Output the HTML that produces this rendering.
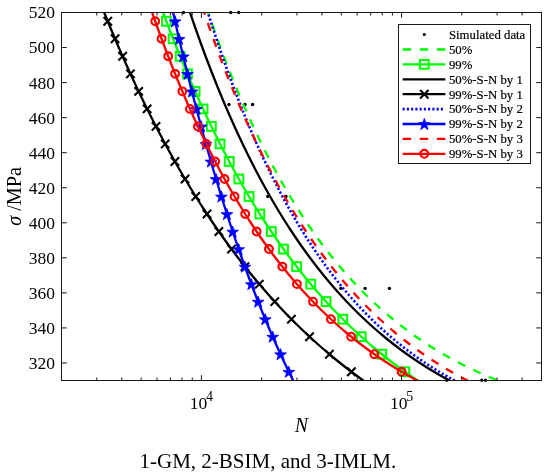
<!DOCTYPE html><html><head><meta charset="utf-8"><style>html,body{margin:0;padding:0;background:#fff;}svg{display:block;}text{font-family:"Liberation Serif","Times New Roman",serif;}text.lg{stroke:#000;stroke-width:0.2px;}</style></head><body>
<svg width="550" height="476" viewBox="0 0 550 476">
<rect width="550" height="476" fill="#fff"/>
<defs><clipPath id="c"><rect x="61.5" y="12.5" width="480.0" height="368.0"/></clipPath>
<path id="mx" d="M-4.2,-4.2L4.2,4.2M-4.2,4.2L4.2,-4.2" fill="none" stroke="#000" stroke-width="2.1"/>
<rect id="ms" x="-4.4" y="-4.4" width="8.8" height="8.8" fill="none" stroke="#0f0" stroke-width="2"/>
<circle id="mo" r="3.9" fill="none" stroke="#f00" stroke-width="2.1"/>
<polygon id="mst" points="0.00,-5.60 1.47,-1.42 5.90,-1.32 2.38,1.37 3.64,5.62 0.00,3.10 -3.64,5.62 -2.38,1.37 -5.90,-1.32 -1.47,-1.42" fill="#00f" stroke="#00f" stroke-width="0.8" stroke-linejoin="miter"/>
</defs>
<circle cx="183.5" cy="12.5" r="1.7" fill="#000" stroke="none"/><circle cx="230.7" cy="12.5" r="1.7" fill="#000" stroke="none"/><circle cx="238.7" cy="12.5" r="1.7" fill="#000" stroke="none"/><circle cx="229" cy="104.5" r="1.7" fill="#000" stroke="none"/><circle cx="245" cy="104.5" r="1.7" fill="#000" stroke="none"/><circle cx="252.6" cy="104.5" r="1.7" fill="#000" stroke="none"/><circle cx="267.7" cy="196.5" r="1.7" fill="#000" stroke="none"/><circle cx="285.9" cy="196.5" r="1.7" fill="#000" stroke="none"/><circle cx="340.8" cy="288.4" r="1.7" fill="#000" stroke="none"/><circle cx="365.1" cy="288.4" r="1.7" fill="#000" stroke="none"/><circle cx="389.4" cy="288.4" r="1.7" fill="#000" stroke="none"/><circle cx="446.9" cy="380.2" r="1.7" fill="#000" stroke="none"/><circle cx="481.8" cy="380.2" r="1.7" fill="#000" stroke="none"/><circle cx="485.5" cy="380.2" r="1.7" fill="#000" stroke="none"/>
<g clip-path="url(#c)" fill="none" stroke-width="2.3">
<path d="M207.34,10.50 L207.68,11.50 L208.02,12.50 L208.36,13.50 L208.71,14.50 L209.05,15.50 L209.39,16.50 L209.74,17.50 L210.08,18.50 L210.43,19.50 L210.78,20.50 L211.12,21.50 L211.47,22.50 L211.82,23.50 L212.17,24.50 L212.52,25.50 L212.88,26.50 L213.23,27.50 L213.58,28.50 L213.94,29.50 L214.29,30.50 L214.65,31.50 L215.01,32.50 L215.36,33.50 L215.72,34.50 L216.08,35.50 L216.44,36.50 L216.81,37.50 L217.17,38.50 L217.53,39.50 L217.90,40.50 L218.26,41.50 L218.63,42.50 L219.00,43.50 L219.36,44.50 L219.73,45.50 L220.10,46.50 L220.47,47.50 L220.85,48.50 L221.22,49.50 L221.59,50.50 L221.97,51.50 L222.34,52.50 L222.72,53.50 L223.10,54.50 L223.48,55.50 L223.86,56.50 L224.24,57.50 L224.62,58.50 L225.00,59.50 L225.38,60.50 L225.77,61.50 L226.16,62.50 L226.54,63.50 L226.93,64.50 L227.32,65.50 L227.71,66.50 L228.10,67.50 L228.49,68.50 L228.88,69.50 L229.28,70.50 L229.67,71.50 L230.07,72.50 L230.47,73.50 L230.87,74.50 L231.27,75.50 L231.67,76.50 L232.07,77.50 L232.47,78.50 L232.87,79.50 L233.28,80.50 L233.69,81.50 L234.09,82.50 L234.50,83.50 L234.91,84.50 L235.32,85.50 L235.73,86.50 L236.15,87.50 L236.56,88.50 L236.98,89.50 L237.39,90.50 L237.81,91.50 L238.23,92.50 L238.65,93.50 L239.07,94.50 L239.50,95.50 L239.92,96.50 L240.35,97.50 L240.77,98.50 L241.20,99.50 L241.63,100.50 L242.06,101.50 L242.49,102.50 L242.92,103.50 L243.36,104.50 L243.79,105.50 L244.23,106.50 L244.67,107.50 L245.11,108.50 L245.55,109.50 L245.99,110.50 L246.43,111.50 L246.88,112.50 L247.33,113.50 L247.77,114.50 L248.22,115.50 L248.67,116.50 L249.12,117.50 L249.58,118.50 L250.03,119.50 L250.49,120.50 L250.95,121.50 L251.40,122.50 L251.86,123.50 L252.33,124.50 L252.79,125.50 L253.25,126.50 L253.72,127.50 L254.19,128.50 L254.66,129.50 L255.13,130.50 L255.60,131.50 L256.08,132.50 L256.55,133.50 L257.03,134.50 L257.51,135.50 L257.99,136.50 L258.47,137.50 L258.95,138.50 L259.44,139.50 L259.92,140.50 L260.41,141.50 L260.90,142.50 L261.39,143.50 L261.89,144.50 L262.38,145.50 L262.88,146.50 L263.38,147.50 L263.88,148.50 L264.38,149.50 L264.88,150.50 L265.39,151.50 L265.89,152.50 L266.40,153.50 L266.91,154.50 L267.42,155.50 L267.94,156.50 L268.45,157.50 L268.97,158.50 L269.49,159.50 L270.01,160.50 L270.54,161.50 L271.06,162.50 L271.59,163.50 L272.12,164.50 L272.65,165.50 L273.18,166.50 L273.72,167.50 L274.25,168.50 L274.79,169.50 L275.33,170.50 L275.88,171.50 L276.42,172.50 L276.97,173.50 L277.52,174.50 L278.07,175.50 L278.62,176.50 L279.18,177.50 L279.74,178.50 L280.30,179.50 L280.86,180.50 L281.42,181.50 L281.99,182.50 L282.56,183.50 L283.13,184.50 L283.70,185.50 L284.28,186.50 L284.85,187.50 L285.43,188.50 L286.02,189.50 L286.60,190.50 L287.19,191.50 L287.78,192.50 L288.37,193.50 L288.96,194.50 L289.56,195.50 L290.16,196.50 L290.76,197.50 L291.36,198.50 L291.97,199.50 L292.58,200.50 L293.19,201.50 L293.81,202.50 L294.42,203.50 L295.04,204.50 L295.66,205.50 L296.29,206.50 L296.92,207.50 L297.55,208.50 L298.18,209.50 L298.81,210.50 L299.45,211.50 L300.09,212.50 L300.74,213.50 L301.39,214.50 L302.04,215.50 L302.69,216.50 L303.34,217.50 L304.00,218.50 L304.67,219.50 L305.33,220.50 L306.00,221.50 L306.67,222.50 L307.34,223.50 L308.02,224.50 L308.70,225.50 L309.38,226.50 L310.07,227.50 L310.76,228.50 L311.45,229.50 L312.15,230.50 L312.85,231.50 L313.55,232.50 L314.26,233.50 L314.97,234.50 L315.69,235.50 L316.40,236.50 L317.12,237.50 L317.85,238.50 L318.58,239.50 L319.31,240.50 L320.04,241.50 L320.78,242.50 L321.53,243.50 L322.27,244.50 L323.02,245.50 L323.78,246.50 L324.54,247.50 L325.30,248.50 L326.07,249.50 L326.84,250.50 L327.61,251.50 L328.39,252.50 L329.18,253.50 L329.96,254.50 L330.75,255.50 L331.55,256.50 L332.35,257.50 L333.16,258.50 L333.97,259.50 L334.78,260.50 L335.60,261.50 L336.42,262.50 L337.25,263.50 L338.08,264.50 L338.92,265.50 L339.76,266.50 L340.61,267.50 L341.46,268.50 L342.32,269.50 L343.18,270.50 L344.05,271.50 L344.92,272.50 L345.80,273.50 L346.68,274.50 L347.57,275.50 L348.46,276.50 L349.36,277.50 L350.27,278.50 L351.18,279.50 L352.10,280.50 L353.02,281.50 L353.95,282.50 L354.88,283.50 L355.82,284.50 L356.77,285.50 L357.72,286.50 L358.68,287.50 L359.65,288.50 L360.62,289.50 L361.60,290.50 L362.58,291.50 L363.57,292.50 L364.57,293.50 L365.58,294.50 L366.59,295.50 L367.61,296.50 L368.64,297.50 L369.67,298.50 L370.71,299.50 L371.76,300.50 L372.82,301.50 L373.88,302.50 L374.96,303.50 L376.04,304.50 L377.12,305.50 L378.22,306.50 L379.33,307.50 L380.44,308.50 L381.56,309.50 L382.69,310.50 L383.83,311.50 L384.98,312.50 L386.14,313.50 L387.31,314.50 L388.48,315.50 L389.67,316.50 L390.87,317.50 L392.07,318.50 L393.29,319.50 L394.51,320.50 L395.75,321.50 L397.00,322.50 L398.26,323.50 L399.53,324.50 L400.81,325.50 L402.10,326.50 L403.40,327.50 L404.72,328.50 L406.05,329.50 L407.38,330.50 L408.74,331.50 L410.10,332.50 L411.48,333.50 L412.87,334.50 L414.27,335.50 L415.69,336.50 L417.13,337.50 L418.57,338.50 L420.03,339.50 L421.51,340.50 L423.00,341.50 L424.51,342.50 L426.03,343.50 L427.57,344.50 L429.12,345.50 L430.69,346.50 L432.28,347.50 L433.89,348.50 L435.51,349.50 L437.15,350.50 L438.82,351.50 L440.50,352.50 L442.20,353.50 L443.92,354.50 L445.66,355.50 L447.42,356.50 L449.21,357.50 L451.01,358.50 L452.84,359.50 L454.69,360.50 L456.57,361.50 L458.47,362.50 L460.40,363.50 L462.35,364.50 L464.33,365.50 L466.33,366.50 L468.37,367.50 L470.43,368.50 L472.52,369.50 L474.65,370.50 L476.80,371.50 L478.99,372.50 L481.21,373.50 L483.46,374.50 L485.75,375.50 L488.08,376.50 L490.45,377.50 L492.85,378.50 L495.30,379.50 L497.78,380.50 L500.31,381.50 L502.89,382.50" stroke="#0f0" stroke-dasharray="8.3 8.85" stroke-dashoffset="3.08"/>
<path d="M162.31,10.50 L162.68,11.50 L163.06,12.50 L163.43,13.50 L163.80,14.50 L164.18,15.50 L164.55,16.50 L164.93,17.50 L165.30,18.50 L165.68,19.50 L166.06,20.50 L166.44,21.50 L166.82,22.50 L167.20,23.50 L167.58,24.50 L167.96,25.50 L168.35,26.50 L168.73,27.50 L169.11,28.50 L169.50,29.50 L169.89,30.50 L170.27,31.50 L170.66,32.50 L171.05,33.50 L171.44,34.50 L171.83,35.50 L172.22,36.50 L172.61,37.50 L173.01,38.50 L173.40,39.50 L173.79,40.50 L174.19,41.50 L174.59,42.50 L174.98,43.50 L175.38,44.50 L175.78,45.50 L176.18,46.50 L176.58,47.50 L176.98,48.50 L177.39,49.50 L177.79,50.50 L178.19,51.50 L178.60,52.50 L179.00,53.50 L179.41,54.50 L179.82,55.50 L180.23,56.50 L180.64,57.50 L181.05,58.50 L181.46,59.50 L181.87,60.50 L182.29,61.50 L182.70,62.50 L183.12,63.50 L183.53,64.50 L183.95,65.50 L184.37,66.50 L184.79,67.50 L185.21,68.50 L185.63,69.50 L186.05,70.50 L186.47,71.50 L186.90,72.50 L187.32,73.50 L187.75,74.50 L188.18,75.50 L188.60,76.50 L189.03,77.50 L189.46,78.50 L189.89,79.50 L190.33,80.50 L190.76,81.50 L191.19,82.50 L191.63,83.50 L192.07,84.50 L192.50,85.50 L192.94,86.50 L193.38,87.50 L193.82,88.50 L194.26,89.50 L194.71,90.50 L195.15,91.50 L195.59,92.50 L196.04,93.50 L196.49,94.50 L196.94,95.50 L197.38,96.50 L197.83,97.50 L198.29,98.50 L198.74,99.50 L199.19,100.50 L199.65,101.50 L200.10,102.50 L200.56,103.50 L201.02,104.50 L201.48,105.50 L201.94,106.50 L202.40,107.50 L202.86,108.50 L203.33,109.50 L203.79,110.50 L204.26,111.50 L204.73,112.50 L205.20,113.50 L205.67,114.50 L206.14,115.50 L206.61,116.50 L207.08,117.50 L207.56,118.50 L208.03,119.50 L208.51,120.50 L208.99,121.50 L209.47,122.50 L209.95,123.50 L210.43,124.50 L210.92,125.50 L211.40,126.50 L211.89,127.50 L212.38,128.50 L212.87,129.50 L213.36,130.50 L213.85,131.50 L214.34,132.50 L214.84,133.50 L215.33,134.50 L215.83,135.50 L216.33,136.50 L216.83,137.50 L217.33,138.50 L217.83,139.50 L218.34,140.50 L218.84,141.50 L219.35,142.50 L219.86,143.50 L220.37,144.50 L220.88,145.50 L221.39,146.50 L221.90,147.50 L222.42,148.50 L222.93,149.50 L223.45,150.50 L223.97,151.50 L224.49,152.50 L225.02,153.50 L225.54,154.50 L226.07,155.50 L226.59,156.50 L227.12,157.50 L227.65,158.50 L228.19,159.50 L228.72,160.50 L229.25,161.50 L229.79,162.50 L230.33,163.50 L230.87,164.50 L231.41,165.50 L231.95,166.50 L232.50,167.50 L233.04,168.50 L233.59,169.50 L234.14,170.50 L234.69,171.50 L235.25,172.50 L235.80,173.50 L236.36,174.50 L236.91,175.50 L237.47,176.50 L238.04,177.50 L238.60,178.50 L239.16,179.50 L239.73,180.50 L240.30,181.50 L240.87,182.50 L241.44,183.50 L242.02,184.50 L242.59,185.50 L243.17,186.50 L243.75,187.50 L244.33,188.50 L244.91,189.50 L245.50,190.50 L246.08,191.50 L246.67,192.50 L247.26,193.50 L247.86,194.50 L248.45,195.50 L249.05,196.50 L249.65,197.50 L250.25,198.50 L250.85,199.50 L251.45,200.50 L252.06,201.50 L252.67,202.50 L253.28,203.50 L253.89,204.50 L254.51,205.50 L255.12,206.50 L255.74,207.50 L256.36,208.50 L256.98,209.50 L257.61,210.50 L258.24,211.50 L258.87,212.50 L259.50,213.50 L260.13,214.50 L260.77,215.50 L261.41,216.50 L262.05,217.50 L262.69,218.50 L263.33,219.50 L263.98,220.50 L264.63,221.50 L265.28,222.50 L265.94,223.50 L266.59,224.50 L267.25,225.50 L267.92,226.50 L268.58,227.50 L269.25,228.50 L269.91,229.50 L270.59,230.50 L271.26,231.50 L271.94,232.50 L272.61,233.50 L273.30,234.50 L273.98,235.50 L274.67,236.50 L275.35,237.50 L276.05,238.50 L276.74,239.50 L277.44,240.50 L278.14,241.50 L278.84,242.50 L279.54,243.50 L280.25,244.50 L280.96,245.50 L281.68,246.50 L282.39,247.50 L283.11,248.50 L283.83,249.50 L284.56,250.50 L285.29,251.50 L286.02,252.50 L286.75,253.50 L287.49,254.50 L288.23,255.50 L288.97,256.50 L289.71,257.50 L290.46,258.50 L291.21,259.50 L291.97,260.50 L292.73,261.50 L293.49,262.50 L294.25,263.50 L295.02,264.50 L295.79,265.50 L296.56,266.50 L297.34,267.50 L298.12,268.50 L298.91,269.50 L299.69,270.50 L300.48,271.50 L301.28,272.50 L302.08,273.50 L302.88,274.50 L303.68,275.50 L304.49,276.50 L305.30,277.50 L306.12,278.50 L306.94,279.50 L307.76,280.50 L308.59,281.50 L309.42,282.50 L310.25,283.50 L311.09,284.50 L311.93,285.50 L312.78,286.50 L313.63,287.50 L314.48,288.50 L315.34,289.50 L316.20,290.50 L317.07,291.50 L317.94,292.50 L318.81,293.50 L319.69,294.50 L320.58,295.50 L321.46,296.50 L322.35,297.50 L323.25,298.50 L324.15,299.50 L325.06,300.50 L325.97,301.50 L326.88,302.50 L327.80,303.50 L328.72,304.50 L329.65,305.50 L330.58,306.50 L331.52,307.50 L332.46,308.50 L333.41,309.50 L334.36,310.50 L335.32,311.50 L336.28,312.50 L337.25,313.50 L338.22,314.50 L339.20,315.50 L340.18,316.50 L341.17,317.50 L342.16,318.50 L343.16,319.50 L344.17,320.50 L345.18,321.50 L346.20,322.50 L347.22,323.50 L348.24,324.50 L349.28,325.50 L350.32,326.50 L351.36,327.50 L352.41,328.50 L353.47,329.50 L354.53,330.50 L355.60,331.50 L356.68,332.50 L357.76,333.50 L358.85,334.50 L359.95,335.50 L361.05,336.50 L362.16,337.50 L363.27,338.50 L364.40,339.50 L365.53,340.50 L366.66,341.50 L367.81,342.50 L368.96,343.50 L370.12,344.50 L371.28,345.50 L372.46,346.50 L373.64,347.50 L374.83,348.50 L376.02,349.50 L377.23,350.50 L378.44,351.50 L379.66,352.50 L380.89,353.50 L382.13,354.50 L383.37,355.50 L384.62,356.50 L385.89,357.50 L387.16,358.50 L388.44,359.50 L389.73,360.50 L391.03,361.50 L392.34,362.50 L393.65,363.50 L394.98,364.50 L396.32,365.50 L397.67,366.50 L399.02,367.50 L400.39,368.50 L401.77,369.50 L403.16,370.50 L404.55,371.50 L405.96,372.50 L407.39,373.50 L408.82,374.50 L410.26,375.50 L411.71,376.50 L413.18,377.50 L414.66,378.50 L416.15,379.50 L417.65,380.50 L419.17,381.50 L420.70,382.50" stroke="#0f0"/>
<use href="#ms" x="166.35" y="21.26"/>
<use href="#ms" x="173.12" y="38.79"/>
<use href="#ms" x="180.15" y="56.31"/>
<use href="#ms" x="187.47" y="73.83"/>
<use href="#ms" x="195.09" y="91.36"/>
<use href="#ms" x="203.04" y="108.88"/>
<use href="#ms" x="211.36" y="126.40"/>
<use href="#ms" x="220.07" y="143.93"/>
<use href="#ms" x="229.23" y="161.45"/>
<use href="#ms" x="238.87" y="178.98"/>
<use href="#ms" x="249.05" y="196.50"/>
<use href="#ms" x="259.83" y="214.02"/>
<use href="#ms" x="271.29" y="231.55"/>
<use href="#ms" x="283.52" y="249.07"/>
<use href="#ms" x="296.64" y="266.60"/>
<use href="#ms" x="310.77" y="284.12"/>
<use href="#ms" x="326.10" y="301.64"/>
<use href="#ms" x="342.83" y="319.17"/>
<use href="#ms" x="361.26" y="336.69"/>
<use href="#ms" x="381.77" y="354.21"/>
<use href="#ms" x="404.89" y="371.74"/>
<path d="M189.35,10.50 L189.69,11.50 L190.03,12.50 L190.37,13.50 L190.71,14.50 L191.05,15.50 L191.39,16.50 L191.73,17.50 L192.07,18.50 L192.41,19.50 L192.76,20.50 L193.10,21.50 L193.45,22.50 L193.80,23.50 L194.14,24.50 L194.49,25.50 L194.84,26.50 L195.19,27.50 L195.54,28.50 L195.89,29.50 L196.24,30.50 L196.60,31.50 L196.95,32.50 L197.31,33.50 L197.66,34.50 L198.02,35.50 L198.37,36.50 L198.73,37.50 L199.09,38.50 L199.45,39.50 L199.81,40.50 L200.17,41.50 L200.54,42.50 L200.90,43.50 L201.26,44.50 L201.63,45.50 L201.99,46.50 L202.36,47.50 L202.73,48.50 L203.10,49.50 L203.46,50.50 L203.83,51.50 L204.21,52.50 L204.58,53.50 L204.95,54.50 L205.32,55.50 L205.70,56.50 L206.07,57.50 L206.45,58.50 L206.83,59.50 L207.21,60.50 L207.59,61.50 L207.97,62.50 L208.35,63.50 L208.73,64.50 L209.11,65.50 L209.50,66.50 L209.88,67.50 L210.27,68.50 L210.66,69.50 L211.04,70.50 L211.43,71.50 L211.82,72.50 L212.21,73.50 L212.61,74.50 L213.00,75.50 L213.39,76.50 L213.79,77.50 L214.18,78.50 L214.58,79.50 L214.98,80.50 L215.38,81.50 L215.78,82.50 L216.18,83.50 L216.58,84.50 L216.99,85.50 L217.39,86.50 L217.80,87.50 L218.20,88.50 L218.61,89.50 L219.02,90.50 L219.43,91.50 L219.84,92.50 L220.25,93.50 L220.67,94.50 L221.08,95.50 L221.50,96.50 L221.91,97.50 L222.33,98.50 L222.75,99.50 L223.17,100.50 L223.59,101.50 L224.01,102.50 L224.44,103.50 L224.86,104.50 L225.29,105.50 L225.72,106.50 L226.14,107.50 L226.57,108.50 L227.00,109.50 L227.44,110.50 L227.87,111.50 L228.30,112.50 L228.74,113.50 L229.18,114.50 L229.62,115.50 L230.06,116.50 L230.50,117.50 L230.94,118.50 L231.38,119.50 L231.83,120.50 L232.27,121.50 L232.72,122.50 L233.17,123.50 L233.62,124.50 L234.07,125.50 L234.52,126.50 L234.98,127.50 L235.43,128.50 L235.89,129.50 L236.35,130.50 L236.81,131.50 L237.27,132.50 L237.73,133.50 L238.19,134.50 L238.66,135.50 L239.12,136.50 L239.59,137.50 L240.06,138.50 L240.53,139.50 L241.01,140.50 L241.48,141.50 L241.95,142.50 L242.43,143.50 L242.91,144.50 L243.39,145.50 L243.87,146.50 L244.35,147.50 L244.84,148.50 L245.32,149.50 L245.81,150.50 L246.30,151.50 L246.79,152.50 L247.28,153.50 L247.78,154.50 L248.27,155.50 L248.77,156.50 L249.27,157.50 L249.77,158.50 L250.27,159.50 L250.77,160.50 L251.28,161.50 L251.78,162.50 L252.29,163.50 L252.80,164.50 L253.32,165.50 L253.83,166.50 L254.34,167.50 L254.86,168.50 L255.38,169.50 L255.90,170.50 L256.42,171.50 L256.95,172.50 L257.47,173.50 L258.00,174.50 L258.53,175.50 L259.06,176.50 L259.60,177.50 L260.13,178.50 L260.67,179.50 L261.21,180.50 L261.75,181.50 L262.29,182.50 L262.84,183.50 L263.39,184.50 L263.93,185.50 L264.49,186.50 L265.04,187.50 L265.59,188.50 L266.15,189.50 L266.71,190.50 L267.27,191.50 L267.83,192.50 L268.40,193.50 L268.97,194.50 L269.54,195.50 L270.11,196.50 L270.68,197.50 L271.26,198.50 L271.83,199.50 L272.41,200.50 L273.00,201.50 L273.58,202.50 L274.17,203.50 L274.76,204.50 L275.35,205.50 L275.94,206.50 L276.54,207.50 L277.14,208.50 L277.74,209.50 L278.34,210.50 L278.95,211.50 L279.56,212.50 L280.17,213.50 L280.78,214.50 L281.40,215.50 L282.01,216.50 L282.63,217.50 L283.26,218.50 L283.88,219.50 L284.51,220.50 L285.14,221.50 L285.77,222.50 L286.41,223.50 L287.05,224.50 L287.69,225.50 L288.33,226.50 L288.98,227.50 L289.63,228.50 L290.28,229.50 L290.94,230.50 L291.60,231.50 L292.26,232.50 L292.92,233.50 L293.59,234.50 L294.26,235.50 L294.93,236.50 L295.61,237.50 L296.28,238.50 L296.97,239.50 L297.65,240.50 L298.34,241.50 L299.03,242.50 L299.72,243.50 L300.42,244.50 L301.12,245.50 L301.82,246.50 L302.53,247.50 L303.24,248.50 L303.95,249.50 L304.67,250.50 L305.39,251.50 L306.12,252.50 L306.84,253.50 L307.57,254.50 L308.31,255.50 L309.04,256.50 L309.79,257.50 L310.53,258.50 L311.28,259.50 L312.03,260.50 L312.79,261.50 L313.55,262.50 L314.31,263.50 L315.08,264.50 L315.85,265.50 L316.63,266.50 L317.40,267.50 L318.19,268.50 L318.97,269.50 L319.77,270.50 L320.56,271.50 L321.36,272.50 L322.17,273.50 L322.97,274.50 L323.79,275.50 L324.60,276.50 L325.42,277.50 L326.25,278.50 L327.08,279.50 L327.91,280.50 L328.75,281.50 L329.60,282.50 L330.45,283.50 L331.30,284.50 L332.16,285.50 L333.02,286.50 L333.89,287.50 L334.76,288.50 L335.64,289.50 L336.52,290.50 L337.41,291.50 L338.31,292.50 L339.20,293.50 L340.11,294.50 L341.02,295.50 L341.93,296.50 L342.85,297.50 L343.78,298.50 L344.71,299.50 L345.65,300.50 L346.59,301.50 L347.54,302.50 L348.50,303.50 L349.46,304.50 L350.42,305.50 L351.40,306.50 L352.38,307.50 L353.36,308.50 L354.36,309.50 L355.36,310.50 L356.36,311.50 L357.37,312.50 L358.39,313.50 L359.42,314.50 L360.45,315.50 L361.49,316.50 L362.54,317.50 L363.59,318.50 L364.65,319.50 L365.72,320.50 L366.80,321.50 L367.88,322.50 L368.98,323.50 L370.08,324.50 L371.18,325.50 L372.30,326.50 L373.43,327.50 L374.56,328.50 L375.70,329.50 L376.85,330.50 L378.01,331.50 L379.18,332.50 L380.35,333.50 L381.54,334.50 L382.73,335.50 L383.94,336.50 L385.15,337.50 L386.37,338.50 L387.61,339.50 L388.85,340.50 L390.11,341.50 L391.37,342.50 L392.65,343.50 L393.93,344.50 L395.23,345.50 L396.54,346.50 L397.86,347.50 L399.19,348.50 L400.53,349.50 L401.88,350.50 L403.25,351.50 L404.63,352.50 L406.02,353.50 L407.42,354.50 L408.84,355.50 L410.27,356.50 L411.72,357.50 L413.17,358.50 L414.65,359.50 L416.13,360.50 L417.63,361.50 L419.15,362.50 L420.68,363.50 L422.23,364.50 L423.79,365.50 L425.37,366.50 L426.97,367.50 L428.58,368.50 L430.21,369.50 L431.86,370.50 L433.52,371.50 L435.21,372.50 L436.91,373.50 L438.63,374.50 L440.37,375.50 L442.13,376.50 L443.92,377.50 L445.72,378.50 L447.55,379.50 L449.39,380.50 L451.26,381.50 L453.16,382.50" stroke="#000"/>
<path d="M103.39,10.50 L103.79,11.50 L104.19,12.50 L104.59,13.50 L105.00,14.50 L105.40,15.50 L105.80,16.50 L106.21,17.50 L106.62,18.50 L107.03,19.50 L107.43,20.50 L107.84,21.50 L108.25,22.50 L108.66,23.50 L109.07,24.50 L109.49,25.50 L109.90,26.50 L110.31,27.50 L110.73,28.50 L111.15,29.50 L111.56,30.50 L111.98,31.50 L112.40,32.50 L112.82,33.50 L113.24,34.50 L113.66,35.50 L114.08,36.50 L114.50,37.50 L114.92,38.50 L115.35,39.50 L115.77,40.50 L116.20,41.50 L116.63,42.50 L117.05,43.50 L117.48,44.50 L117.91,45.50 L118.34,46.50 L118.77,47.50 L119.21,48.50 L119.64,49.50 L120.07,50.50 L120.51,51.50 L120.94,52.50 L121.38,53.50 L121.82,54.50 L122.26,55.50 L122.70,56.50 L123.14,57.50 L123.58,58.50 L124.02,59.50 L124.46,60.50 L124.91,61.50 L125.35,62.50 L125.80,63.50 L126.25,64.50 L126.69,65.50 L127.14,66.50 L127.59,67.50 L128.04,68.50 L128.50,69.50 L128.95,70.50 L129.40,71.50 L129.86,72.50 L130.31,73.50 L130.77,74.50 L131.23,75.50 L131.69,76.50 L132.15,77.50 L132.61,78.50 L133.07,79.50 L133.53,80.50 L134.00,81.50 L134.46,82.50 L134.93,83.50 L135.39,84.50 L135.86,85.50 L136.33,86.50 L136.80,87.50 L137.27,88.50 L137.75,89.50 L138.22,90.50 L138.69,91.50 L139.17,92.50 L139.65,93.50 L140.12,94.50 L140.60,95.50 L141.08,96.50 L141.56,97.50 L142.05,98.50 L142.53,99.50 L143.01,100.50 L143.50,101.50 L143.99,102.50 L144.47,103.50 L144.96,104.50 L145.45,105.50 L145.94,106.50 L146.44,107.50 L146.93,108.50 L147.43,109.50 L147.92,110.50 L148.42,111.50 L148.92,112.50 L149.42,113.50 L149.92,114.50 L150.42,115.50 L150.92,116.50 L151.43,117.50 L151.93,118.50 L152.44,119.50 L152.95,120.50 L153.46,121.50 L153.97,122.50 L154.48,123.50 L154.99,124.50 L155.51,125.50 L156.03,126.50 L156.54,127.50 L157.06,128.50 L157.58,129.50 L158.10,130.50 L158.62,131.50 L159.15,132.50 L159.67,133.50 L160.20,134.50 L160.73,135.50 L161.25,136.50 L161.78,137.50 L162.32,138.50 L162.85,139.50 L163.38,140.50 L163.92,141.50 L164.46,142.50 L165.00,143.50 L165.53,144.50 L166.08,145.50 L166.62,146.50 L167.16,147.50 L167.71,148.50 L168.26,149.50 L168.80,150.50 L169.35,151.50 L169.91,152.50 L170.46,153.50 L171.01,154.50 L171.57,155.50 L172.13,156.50 L172.68,157.50 L173.24,158.50 L173.81,159.50 L174.37,160.50 L174.93,161.50 L175.50,162.50 L176.07,163.50 L176.64,164.50 L177.21,165.50 L177.78,166.50 L178.36,167.50 L178.93,168.50 L179.51,169.50 L180.09,170.50 L180.67,171.50 L181.25,172.50 L181.84,173.50 L182.42,174.50 L183.01,175.50 L183.60,176.50 L184.19,177.50 L184.78,178.50 L185.37,179.50 L185.97,180.50 L186.57,181.50 L187.17,182.50 L187.77,183.50 L188.37,184.50 L188.97,185.50 L189.58,186.50 L190.19,187.50 L190.80,188.50 L191.41,189.50 L192.02,190.50 L192.64,191.50 L193.25,192.50 L193.87,193.50 L194.49,194.50 L195.11,195.50 L195.74,196.50 L196.36,197.50 L196.99,198.50 L197.62,199.50 L198.25,200.50 L198.89,201.50 L199.52,202.50 L200.16,203.50 L200.80,204.50 L201.44,205.50 L202.09,206.50 L202.73,207.50 L203.38,208.50 L204.03,209.50 L204.68,210.50 L205.33,211.50 L205.99,212.50 L206.65,213.50 L207.31,214.50 L207.97,215.50 L208.63,216.50 L209.30,217.50 L209.97,218.50 L210.64,219.50 L211.31,220.50 L211.99,221.50 L212.66,222.50 L213.34,223.50 L214.02,224.50 L214.71,225.50 L215.39,226.50 L216.08,227.50 L216.77,228.50 L217.47,229.50 L218.16,230.50 L218.86,231.50 L219.56,232.50 L220.26,233.50 L220.96,234.50 L221.67,235.50 L222.38,236.50 L223.09,237.50 L223.81,238.50 L224.52,239.50 L225.24,240.50 L225.97,241.50 L226.69,242.50 L227.42,243.50 L228.15,244.50 L228.88,245.50 L229.61,246.50 L230.35,247.50 L231.09,248.50 L231.83,249.50 L232.58,250.50 L233.32,251.50 L234.07,252.50 L234.83,253.50 L235.58,254.50 L236.34,255.50 L237.10,256.50 L237.87,257.50 L238.63,258.50 L239.40,259.50 L240.18,260.50 L240.95,261.50 L241.73,262.50 L242.51,263.50 L243.30,264.50 L244.08,265.50 L244.88,266.50 L245.67,267.50 L246.47,268.50 L247.26,269.50 L248.07,270.50 L248.87,271.50 L249.68,272.50 L250.49,273.50 L251.31,274.50 L252.13,275.50 L252.95,276.50 L253.77,277.50 L254.60,278.50 L255.43,279.50 L256.27,280.50 L257.11,281.50 L257.95,282.50 L258.79,283.50 L259.64,284.50 L260.49,285.50 L261.35,286.50 L262.21,287.50 L263.07,288.50 L263.94,289.50 L264.81,290.50 L265.68,291.50 L266.56,292.50 L267.44,293.50 L268.32,294.50 L269.21,295.50 L270.10,296.50 L271.00,297.50 L271.90,298.50 L272.80,299.50 L273.71,300.50 L274.62,301.50 L275.54,302.50 L276.46,303.50 L277.38,304.50 L278.31,305.50 L279.24,306.50 L280.18,307.50 L281.12,308.50 L282.06,309.50 L283.01,310.50 L283.97,311.50 L284.92,312.50 L285.89,313.50 L286.85,314.50 L287.82,315.50 L288.80,316.50 L289.78,317.50 L290.77,318.50 L291.76,319.50 L292.75,320.50 L293.75,321.50 L294.75,322.50 L295.76,323.50 L296.78,324.50 L297.80,325.50 L298.82,326.50 L299.85,327.50 L300.88,328.50 L301.92,329.50 L302.97,330.50 L304.02,331.50 L305.07,332.50 L306.13,333.50 L307.20,334.50 L308.27,335.50 L309.35,336.50 L310.43,337.50 L311.52,338.50 L312.61,339.50 L313.71,340.50 L314.82,341.50 L315.93,342.50 L317.05,343.50 L318.17,344.50 L319.30,345.50 L320.44,346.50 L321.58,347.50 L322.73,348.50 L323.88,349.50 L325.04,350.50 L326.21,351.50 L327.38,352.50 L328.57,353.50 L329.75,354.50 L330.95,355.50 L332.15,356.50 L333.36,357.50 L334.57,358.50 L335.80,359.50 L337.03,360.50 L338.26,361.50 L339.51,362.50 L340.76,363.50 L342.02,364.50 L343.29,365.50 L344.56,366.50 L345.85,367.50 L347.14,368.50 L348.44,369.50 L349.75,370.50 L351.06,371.50 L352.38,372.50 L353.72,373.50 L355.06,374.50 L356.41,375.50 L357.77,376.50 L359.13,377.50 L360.51,378.50 L361.90,379.50 L363.29,380.50 L364.70,381.50 L366.11,382.50" stroke="#000"/>
<use href="#mx" x="107.75" y="21.26"/>
<use href="#mx" x="115.05" y="38.79"/>
<use href="#mx" x="122.61" y="56.31"/>
<use href="#mx" x="130.46" y="73.83"/>
<use href="#mx" x="138.63" y="91.36"/>
<use href="#mx" x="147.12" y="108.88"/>
<use href="#mx" x="155.98" y="126.40"/>
<use href="#mx" x="165.23" y="143.93"/>
<use href="#mx" x="174.91" y="161.45"/>
<use href="#mx" x="185.06" y="178.98"/>
<use href="#mx" x="195.74" y="196.50"/>
<use href="#mx" x="206.99" y="214.02"/>
<use href="#mx" x="218.89" y="231.55"/>
<use href="#mx" x="231.51" y="249.07"/>
<use href="#mx" x="244.95" y="266.60"/>
<use href="#mx" x="259.32" y="284.12"/>
<use href="#mx" x="274.75" y="301.64"/>
<use href="#mx" x="291.42" y="319.17"/>
<use href="#mx" x="309.55" y="336.69"/>
<use href="#mx" x="329.41" y="354.21"/>
<use href="#mx" x="351.38" y="371.74"/>
<g stroke-width="2.6">
<path d="M207.30,10.50 L207.61,11.50 L207.92,12.50 L208.24,13.50 L208.55,14.50 L208.87,15.50 L209.18,16.50 L209.50,17.50 L209.82,18.50 L210.13,19.50 L210.45,20.50 L210.77,21.50 L211.09,22.50 L211.41,23.50 L211.74,24.50 L212.06,25.50 L212.38,26.50 L212.71,27.50 L213.03,28.50 L213.36,29.50 L213.68,30.50 L214.01,31.50 L214.34,32.50 L214.67,33.50 L215.00,34.50 L215.33,35.50 L215.66,36.50 L215.99,37.50 L216.32,38.50 L216.66,39.50 L216.99,40.50 L217.33,41.50 L217.66,42.50 L218.00,43.50 L218.34,44.50 L218.67,45.50 L219.01,46.50 L219.35,47.50 L219.69,48.50 L220.03,49.50 L220.38,50.50 L220.72,51.50 L221.06,52.50 L221.41,53.50 L221.76,54.50 L222.10,55.50 L222.45,56.50 L222.80,57.50 L223.15,58.50 L223.50,59.50 L223.85,60.50 L224.20,61.50 L224.55,62.50 L224.91,63.50 L225.26,64.50 L225.62,65.50 L225.98,66.50 L226.33,67.50 L226.69,68.50 L227.05,69.50 L227.41,70.50 L227.77,71.50 L228.13,72.50 L228.50,73.50 L228.86,74.50 L229.23,75.50 L229.59,76.50 L229.96,77.50 L230.33,78.50 L230.70,79.50 L231.07,80.50 L231.44,81.50 L231.81,82.50 L232.18,83.50 L232.55,84.50 L232.93,85.50 L233.31,86.50 L233.68,87.50 L234.06,88.50 L234.44,89.50 L234.82,90.50 L235.20,91.50 L235.58,92.50 L235.97,93.50 L236.35,94.50 L236.73,95.50 L237.12,96.50 L237.51,97.50 L237.90,98.50 L238.29,99.50 L238.68,100.50 L239.07,101.50 L239.46,102.50 L239.86,103.50 L240.25,104.50 L240.65,105.50 L241.04,106.50 L241.44,107.50 L241.84,108.50 L242.24,109.50 L242.64,110.50 L243.05,111.50 L243.45,112.50 L243.86,113.50 L244.26,114.50 L244.67,115.50 L245.08,116.50 L245.49,117.50 L245.90,118.50 L246.32,119.50 L246.73,120.50 L247.14,121.50 L247.56,122.50 L247.98,123.50 L248.40,124.50 L248.82,125.50 L249.24,126.50 L249.66,127.50 L250.09,128.50 L250.51,129.50 L250.94,130.50 L251.37,131.50 L251.80,132.50 L252.23,133.50 L252.66,134.50 L253.09,135.50 L253.53,136.50 L253.96,137.50 L254.40,138.50 L254.84,139.50 L255.28,140.50 L255.72,141.50 L256.16,142.50 L256.61,143.50 L257.05,144.50 L257.50,145.50 L257.95,146.50 L258.40,147.50 L258.85,148.50 L259.30,149.50 L259.76,150.50 L260.21,151.50 L260.67,152.50 L261.13,153.50 L261.59,154.50 L262.05,155.50 L262.52,156.50 L262.98,157.50 L263.45,158.50 L263.92,159.50 L264.39,160.50 L264.86,161.50 L265.33,162.50 L265.81,163.50 L266.28,164.50 L266.76,165.50 L267.24,166.50 L267.72,167.50 L268.20,168.50 L268.69,169.50 L269.17,170.50 L269.66,171.50 L270.15,172.50 L270.64,173.50 L271.14,174.50 L271.63,175.50 L272.13,176.50 L272.63,177.50 L273.13,178.50 L273.63,179.50 L274.13,180.50 L274.64,181.50 L275.15,182.50 L275.66,183.50 L276.17,184.50 L276.68,185.50 L277.20,186.50 L277.71,187.50 L278.23,188.50 L278.75,189.50 L279.28,190.50 L279.80,191.50 L280.33,192.50 L280.86,193.50 L281.39,194.50 L281.92,195.50 L282.46,196.50 L282.99,197.50 L283.53,198.50 L284.07,199.50 L284.62,200.50 L285.16,201.50 L285.71,202.50 L286.26,203.50 L286.81,204.50 L287.37,205.50 L287.92,206.50 L288.48,207.50 L289.04,208.50 L289.61,209.50 L290.17,210.50 L290.74,211.50 L291.31,212.50 L291.88,213.50 L292.46,214.50 L293.04,215.50 L293.62,216.50 L294.20,217.50 L294.78,218.50 L295.37,219.50 L295.96,220.50 L296.55,221.50 L297.14,222.50 L297.74,223.50 L298.34,224.50 L298.94,225.50 L299.55,226.50 L300.16,227.50 L300.77,228.50 L301.38,229.50 L302.00,230.50 L302.61,231.50 L303.23,232.50 L303.86,233.50 L304.49,234.50 L305.12,235.50 L305.75,236.50 L306.38,237.50 L307.02,238.50 L307.66,239.50 L308.31,240.50 L308.95,241.50 L309.60,242.50 L310.26,243.50 L310.91,244.50 L311.57,245.50 L312.24,246.50 L312.90,247.50 L313.57,248.50 L314.24,249.50 L314.92,250.50 L315.60,251.50 L316.28,252.50 L316.96,253.50 L317.65,254.50 L318.35,255.50 L319.04,256.50 L319.74,257.50 L320.44,258.50 L321.15,259.50 L321.86,260.50 L322.57,261.50 L323.29,262.50 L324.01,263.50 L324.74,264.50 L325.47,265.50 L326.20,266.50 L326.93,267.50 L327.68,268.50 L328.42,269.50 L329.17,270.50 L329.92,271.50 L330.68,272.50 L331.44,273.50 L332.20,274.50 L332.97,275.50 L333.74,276.50 L334.52,277.50 L335.30,278.50 L336.09,279.50 L336.88,280.50 L337.68,281.50 L338.48,282.50 L339.28,283.50 L340.09,284.50 L340.90,285.50 L341.72,286.50 L342.55,287.50 L343.37,288.50 L344.21,289.50 L345.05,290.50 L345.89,291.50 L346.74,292.50 L347.59,293.50 L348.45,294.50 L349.32,295.50 L350.19,296.50 L351.06,297.50 L351.94,298.50 L352.83,299.50 L353.72,300.50 L354.62,301.50 L355.53,302.50 L356.44,303.50 L357.35,304.50 L358.27,305.50 L359.20,306.50 L360.14,307.50 L361.08,308.50 L362.02,309.50 L362.98,310.50 L363.94,311.50 L364.91,312.50 L365.88,313.50 L366.86,314.50 L367.85,315.50 L368.84,316.50 L369.84,317.50 L370.85,318.50 L371.87,319.50 L372.89,320.50 L373.93,321.50 L374.96,322.50 L376.01,323.50 L377.07,324.50 L378.13,325.50 L379.20,326.50 L380.28,327.50 L381.37,328.50 L382.47,329.50 L383.57,330.50 L384.69,331.50 L385.81,332.50 L386.94,333.50 L388.08,334.50 L389.23,335.50 L390.40,336.50 L391.57,337.50 L392.75,338.50 L393.94,339.50 L395.14,340.50 L396.35,341.50 L397.57,342.50 L398.81,343.50 L400.05,344.50 L401.30,345.50 L402.57,346.50 L403.85,347.50 L405.14,348.50 L406.44,349.50 L407.76,350.50 L409.08,351.50 L410.42,352.50 L411.78,353.50 L413.14,354.50 L414.52,355.50 L415.92,356.50 L417.32,357.50 L418.75,358.50 L420.18,359.50 L421.64,360.50 L423.10,361.50 L424.59,362.50 L426.09,363.50 L427.60,364.50 L429.13,365.50 L430.68,366.50 L432.25,367.50 L433.83,368.50 L435.44,369.50 L437.06,370.50 L438.70,371.50 L440.36,372.50 L442.04,373.50 L443.74,374.50 L445.46,375.50 L447.21,376.50 L448.97,377.50 L450.76,378.50 L452.57,379.50 L454.41,380.50 L456.27,381.50 L458.15,382.50" stroke="#00f" stroke-dasharray="2.1 2.15"/>
</g>
<path d="M172.63,10.50 L172.85,11.50 L173.07,12.50 L173.30,13.50 L173.52,14.50 L173.75,15.50 L173.98,16.50 L174.20,17.50 L174.43,18.50 L174.65,19.50 L174.88,20.50 L175.11,21.50 L175.34,22.50 L175.56,23.50 L175.79,24.50 L176.02,25.50 L176.25,26.50 L176.48,27.50 L176.71,28.50 L176.94,29.50 L177.17,30.50 L177.40,31.50 L177.63,32.50 L177.86,33.50 L178.10,34.50 L178.33,35.50 L178.56,36.50 L178.80,37.50 L179.03,38.50 L179.26,39.50 L179.50,40.50 L179.73,41.50 L179.97,42.50 L180.20,43.50 L180.44,44.50 L180.67,45.50 L180.91,46.50 L181.15,47.50 L181.38,48.50 L181.62,49.50 L181.86,50.50 L182.10,51.50 L182.34,52.50 L182.57,53.50 L182.81,54.50 L183.05,55.50 L183.29,56.50 L183.53,57.50 L183.78,58.50 L184.02,59.50 L184.26,60.50 L184.50,61.50 L184.74,62.50 L184.99,63.50 L185.23,64.50 L185.47,65.50 L185.72,66.50 L185.96,67.50 L186.21,68.50 L186.45,69.50 L186.70,70.50 L186.94,71.50 L187.19,72.50 L187.44,73.50 L187.68,74.50 L187.93,75.50 L188.18,76.50 L188.43,77.50 L188.68,78.50 L188.93,79.50 L189.18,80.50 L189.43,81.50 L189.68,82.50 L189.93,83.50 L190.18,84.50 L190.43,85.50 L190.68,86.50 L190.94,87.50 L191.19,88.50 L191.44,89.50 L191.70,90.50 L191.95,91.50 L192.21,92.50 L192.46,93.50 L192.72,94.50 L192.97,95.50 L193.23,96.50 L193.49,97.50 L193.74,98.50 L194.00,99.50 L194.26,100.50 L194.52,101.50 L194.78,102.50 L195.04,103.50 L195.30,104.50 L195.56,105.50 L195.82,106.50 L196.08,107.50 L196.34,108.50 L196.61,109.50 L196.87,110.50 L197.13,111.50 L197.40,112.50 L197.66,113.50 L197.93,114.50 L198.19,115.50 L198.46,116.50 L198.72,117.50 L198.99,118.50 L199.26,119.50 L199.52,120.50 L199.79,121.50 L200.06,122.50 L200.33,123.50 L200.60,124.50 L200.87,125.50 L201.14,126.50 L201.41,127.50 L201.68,128.50 L201.95,129.50 L202.23,130.50 L202.50,131.50 L202.77,132.50 L203.05,133.50 L203.32,134.50 L203.60,135.50 L203.87,136.50 L204.15,137.50 L204.42,138.50 L204.70,139.50 L204.98,140.50 L205.26,141.50 L205.53,142.50 L205.81,143.50 L206.09,144.50 L206.37,145.50 L206.65,146.50 L206.94,147.50 L207.22,148.50 L207.50,149.50 L207.78,150.50 L208.06,151.50 L208.35,152.50 L208.63,153.50 L208.92,154.50 L209.20,155.50 L209.49,156.50 L209.78,157.50 L210.06,158.50 L210.35,159.50 L210.64,160.50 L210.93,161.50 L211.22,162.50 L211.51,163.50 L211.80,164.50 L212.09,165.50 L212.38,166.50 L212.67,167.50 L212.96,168.50 L213.26,169.50 L213.55,170.50 L213.85,171.50 L214.14,172.50 L214.44,173.50 L214.73,174.50 L215.03,175.50 L215.33,176.50 L215.62,177.50 L215.92,178.50 L216.22,179.50 L216.52,180.50 L216.82,181.50 L217.12,182.50 L217.42,183.50 L217.73,184.50 L218.03,185.50 L218.33,186.50 L218.64,187.50 L218.94,188.50 L219.25,189.50 L219.55,190.50 L219.86,191.50 L220.16,192.50 L220.47,193.50 L220.78,194.50 L221.09,195.50 L221.40,196.50 L221.71,197.50 L222.02,198.50 L222.33,199.50 L222.64,200.50 L222.96,201.50 L223.27,202.50 L223.58,203.50 L223.90,204.50 L224.21,205.50 L224.53,206.50 L224.85,207.50 L225.16,208.50 L225.48,209.50 L225.80,210.50 L226.12,211.50 L226.44,212.50 L226.76,213.50 L227.08,214.50 L227.41,215.50 L227.73,216.50 L228.05,217.50 L228.38,218.50 L228.70,219.50 L229.03,220.50 L229.35,221.50 L229.68,222.50 L230.01,223.50 L230.34,224.50 L230.67,225.50 L231.00,226.50 L231.33,227.50 L231.66,228.50 L231.99,229.50 L232.32,230.50 L232.66,231.50 L232.99,232.50 L233.33,233.50 L233.66,234.50 L234.00,235.50 L234.34,236.50 L234.68,237.50 L235.01,238.50 L235.35,239.50 L235.69,240.50 L236.04,241.50 L236.38,242.50 L236.72,243.50 L237.06,244.50 L237.41,245.50 L237.75,246.50 L238.10,247.50 L238.45,248.50 L238.79,249.50 L239.14,250.50 L239.49,251.50 L239.84,252.50 L240.19,253.50 L240.54,254.50 L240.90,255.50 L241.25,256.50 L241.60,257.50 L241.96,258.50 L242.32,259.50 L242.67,260.50 L243.03,261.50 L243.39,262.50 L243.75,263.50 L244.11,264.50 L244.47,265.50 L244.83,266.50 L245.19,267.50 L245.56,268.50 L245.92,269.50 L246.29,270.50 L246.65,271.50 L247.02,272.50 L247.39,273.50 L247.76,274.50 L248.13,275.50 L248.50,276.50 L248.87,277.50 L249.24,278.50 L249.62,279.50 L249.99,280.50 L250.37,281.50 L250.74,282.50 L251.12,283.50 L251.50,284.50 L251.88,285.50 L252.26,286.50 L252.64,287.50 L253.02,288.50 L253.40,289.50 L253.79,290.50 L254.17,291.50 L254.56,292.50 L254.95,293.50 L255.33,294.50 L255.72,295.50 L256.11,296.50 L256.50,297.50 L256.90,298.50 L257.29,299.50 L257.68,300.50 L258.08,301.50 L258.48,302.50 L258.87,303.50 L259.27,304.50 L259.67,305.50 L260.07,306.50 L260.47,307.50 L260.88,308.50 L261.28,309.50 L261.68,310.50 L262.09,311.50 L262.50,312.50 L262.91,313.50 L263.31,314.50 L263.73,315.50 L264.14,316.50 L264.55,317.50 L264.96,318.50 L265.38,319.50 L265.79,320.50 L266.21,321.50 L266.63,322.50 L267.05,323.50 L267.47,324.50 L267.89,325.50 L268.32,326.50 L268.74,327.50 L269.16,328.50 L269.59,329.50 L270.02,330.50 L270.45,331.50 L270.88,332.50 L271.31,333.50 L271.74,334.50 L272.18,335.50 L272.61,336.50 L273.05,337.50 L273.49,338.50 L273.93,339.50 L274.37,340.50 L274.81,341.50 L275.25,342.50 L275.70,343.50 L276.14,344.50 L276.59,345.50 L277.04,346.50 L277.49,347.50 L277.94,348.50 L278.39,349.50 L278.85,350.50 L279.30,351.50 L279.76,352.50 L280.22,353.50 L280.68,354.50 L281.14,355.50 L281.60,356.50 L282.06,357.50 L282.53,358.50 L282.99,359.50 L283.46,360.50 L283.93,361.50 L284.40,362.50 L284.87,363.50 L285.35,364.50 L285.82,365.50 L286.30,366.50 L286.78,367.50 L287.26,368.50 L287.74,369.50 L288.22,370.50 L288.71,371.50 L289.19,372.50 L289.68,373.50 L290.17,374.50 L290.66,375.50 L291.16,376.50 L291.65,377.50 L292.15,378.50 L292.64,379.50 L293.14,380.50 L293.64,381.50 L294.15,382.50" stroke="#00f"/>
<use href="#mst" x="175.05" y="21.26"/>
<use href="#mst" x="179.10" y="38.79"/>
<use href="#mst" x="183.25" y="56.31"/>
<use href="#mst" x="187.52" y="73.83"/>
<use href="#mst" x="191.91" y="91.36"/>
<use href="#mst" x="196.44" y="108.88"/>
<use href="#mst" x="201.11" y="126.40"/>
<use href="#mst" x="205.93" y="143.93"/>
<use href="#mst" x="210.91" y="161.45"/>
<use href="#mst" x="216.06" y="178.98"/>
<use href="#mst" x="221.40" y="196.50"/>
<use href="#mst" x="226.93" y="214.02"/>
<use href="#mst" x="232.67" y="231.55"/>
<use href="#mst" x="238.65" y="249.07"/>
<use href="#mst" x="244.86" y="266.60"/>
<use href="#mst" x="251.35" y="284.12"/>
<use href="#mst" x="258.14" y="301.64"/>
<use href="#mst" x="265.24" y="319.17"/>
<use href="#mst" x="272.70" y="336.69"/>
<use href="#mst" x="280.54" y="354.21"/>
<use href="#mst" x="288.82" y="371.74"/>
<path d="M203.53,10.50 L203.86,11.50 L204.20,12.50 L204.54,13.50 L204.88,14.50 L205.22,15.50 L205.56,16.50 L205.90,17.50 L206.24,18.50 L206.59,19.50 L206.93,20.50 L207.28,21.50 L207.62,22.50 L207.97,23.50 L208.32,24.50 L208.66,25.50 L209.01,26.50 L209.36,27.50 L209.71,28.50 L210.06,29.50 L210.42,30.50 L210.77,31.50 L211.12,32.50 L211.48,33.50 L211.83,34.50 L212.19,35.50 L212.55,36.50 L212.91,37.50 L213.26,38.50 L213.62,39.50 L213.98,40.50 L214.35,41.50 L214.71,42.50 L215.07,43.50 L215.44,44.50 L215.80,45.50 L216.17,46.50 L216.53,47.50 L216.90,48.50 L217.27,49.50 L217.64,50.50 L218.01,51.50 L218.38,52.50 L218.75,53.50 L219.12,54.50 L219.50,55.50 L219.87,56.50 L220.25,57.50 L220.63,58.50 L221.00,59.50 L221.38,60.50 L221.76,61.50 L222.14,62.50 L222.52,63.50 L222.91,64.50 L223.29,65.50 L223.67,66.50 L224.06,67.50 L224.45,68.50 L224.83,69.50 L225.22,70.50 L225.61,71.50 L226.00,72.50 L226.39,73.50 L226.79,74.50 L227.18,75.50 L227.57,76.50 L227.97,77.50 L228.37,78.50 L228.76,79.50 L229.16,80.50 L229.56,81.50 L229.96,82.50 L230.37,83.50 L230.77,84.50 L231.17,85.50 L231.58,86.50 L231.98,87.50 L232.39,88.50 L232.80,89.50 L233.21,90.50 L233.62,91.50 L234.03,92.50 L234.44,93.50 L234.86,94.50 L235.27,95.50 L235.69,96.50 L236.11,97.50 L236.53,98.50 L236.94,99.50 L237.37,100.50 L237.79,101.50 L238.21,102.50 L238.64,103.50 L239.06,104.50 L239.49,105.50 L239.92,106.50 L240.35,107.50 L240.78,108.50 L241.21,109.50 L241.64,110.50 L242.08,111.50 L242.51,112.50 L242.95,113.50 L243.39,114.50 L243.82,115.50 L244.27,116.50 L244.71,117.50 L245.15,118.50 L245.59,119.50 L246.04,120.50 L246.49,121.50 L246.94,122.50 L247.39,123.50 L247.84,124.50 L248.29,125.50 L248.74,126.50 L249.20,127.50 L249.66,128.50 L250.11,129.50 L250.57,130.50 L251.03,131.50 L251.50,132.50 L251.96,133.50 L252.42,134.50 L252.89,135.50 L253.36,136.50 L253.83,137.50 L254.30,138.50 L254.77,139.50 L255.24,140.50 L255.72,141.50 L256.20,142.50 L256.67,143.50 L257.15,144.50 L257.64,145.50 L258.12,146.50 L258.60,147.50 L259.09,148.50 L259.58,149.50 L260.07,150.50 L260.56,151.50 L261.05,152.50 L261.54,153.50 L262.04,154.50 L262.54,155.50 L263.03,156.50 L263.54,157.50 L264.04,158.50 L264.54,159.50 L265.05,160.50 L265.55,161.50 L266.06,162.50 L266.57,163.50 L267.09,164.50 L267.60,165.50 L268.12,166.50 L268.63,167.50 L269.15,168.50 L269.67,169.50 L270.20,170.50 L270.72,171.50 L271.25,172.50 L271.78,173.50 L272.31,174.50 L272.84,175.50 L273.37,176.50 L273.91,177.50 L274.45,178.50 L274.99,179.50 L275.53,180.50 L276.07,181.50 L276.62,182.50 L277.17,183.50 L277.72,184.50 L278.27,185.50 L278.82,186.50 L279.38,187.50 L279.94,188.50 L280.50,189.50 L281.06,190.50 L281.62,191.50 L282.19,192.50 L282.76,193.50 L283.33,194.50 L283.90,195.50 L284.47,196.50 L285.05,197.50 L285.63,198.50 L286.21,199.50 L286.80,200.50 L287.38,201.50 L287.97,202.50 L288.56,203.50 L289.15,204.50 L289.75,205.50 L290.35,206.50 L290.95,207.50 L291.55,208.50 L292.15,209.50 L292.76,210.50 L293.37,211.50 L293.98,212.50 L294.60,213.50 L295.21,214.50 L295.83,215.50 L296.46,216.50 L297.08,217.50 L297.71,218.50 L298.34,219.50 L298.97,220.50 L299.61,221.50 L300.24,222.50 L300.89,223.50 L301.53,224.50 L302.18,225.50 L302.82,226.50 L303.48,227.50 L304.13,228.50 L304.79,229.50 L305.45,230.50 L306.11,231.50 L306.78,232.50 L307.45,233.50 L308.12,234.50 L308.79,235.50 L309.47,236.50 L310.15,237.50 L310.84,238.50 L311.53,239.50 L312.22,240.50 L312.91,241.50 L313.61,242.50 L314.31,243.50 L315.01,244.50 L315.72,245.50 L316.43,246.50 L317.14,247.50 L317.86,248.50 L318.58,249.50 L319.30,250.50 L320.03,251.50 L320.76,252.50 L321.49,253.50 L322.23,254.50 L322.97,255.50 L323.72,256.50 L324.47,257.50 L325.22,258.50 L325.98,259.50 L326.74,260.50 L327.50,261.50 L328.27,262.50 L329.04,263.50 L329.82,264.50 L330.60,265.50 L331.38,266.50 L332.17,267.50 L332.96,268.50 L333.76,269.50 L334.56,270.50 L335.36,271.50 L336.17,272.50 L336.98,273.50 L337.80,274.50 L338.62,275.50 L339.45,276.50 L340.28,277.50 L341.12,278.50 L341.96,279.50 L342.80,280.50 L343.65,281.50 L344.51,282.50 L345.37,283.50 L346.23,284.50 L347.10,285.50 L347.98,286.50 L348.86,287.50 L349.74,288.50 L350.63,289.50 L351.53,290.50 L352.43,291.50 L353.34,292.50 L354.25,293.50 L355.16,294.50 L356.09,295.50 L357.02,296.50 L357.95,297.50 L358.89,298.50 L359.84,299.50 L360.79,300.50 L361.75,301.50 L362.71,302.50 L363.68,303.50 L364.66,304.50 L365.64,305.50 L366.63,306.50 L367.63,307.50 L368.63,308.50 L369.64,309.50 L370.65,310.50 L371.68,311.50 L372.71,312.50 L373.74,313.50 L374.79,314.50 L375.84,315.50 L376.90,316.50 L377.96,317.50 L379.04,318.50 L380.12,319.50 L381.21,320.50 L382.31,321.50 L383.41,322.50 L384.53,323.50 L385.65,324.50 L386.78,325.50 L387.92,326.50 L389.06,327.50 L390.22,328.50 L391.39,329.50 L392.56,330.50 L393.74,331.50 L394.94,332.50 L396.14,333.50 L397.35,334.50 L398.57,335.50 L399.80,336.50 L401.05,337.50 L402.30,338.50 L403.56,339.50 L404.83,340.50 L406.12,341.50 L407.41,342.50 L408.72,343.50 L410.04,344.50 L411.37,345.50 L412.71,346.50 L414.06,347.50 L415.43,348.50 L416.80,349.50 L418.19,350.50 L419.60,351.50 L421.01,352.50 L422.44,353.50 L423.89,354.50 L425.35,355.50 L426.82,356.50 L428.30,357.50 L429.81,358.50 L431.32,359.50 L432.85,360.50 L434.40,361.50 L435.96,362.50 L437.54,363.50 L439.14,364.50 L440.76,365.50 L442.39,366.50 L444.04,367.50 L445.70,368.50 L447.39,369.50 L449.09,370.50 L450.82,371.50 L452.56,372.50 L454.33,373.50 L456.11,374.50 L457.92,375.50 L459.75,376.50 L461.60,377.50 L463.47,378.50 L465.37,379.50 L467.29,380.50 L469.24,381.50 L471.21,382.50" stroke="#f00" stroke-dasharray="8.3 8.85" stroke-dashoffset="3.94"/>
<path d="M151.44,10.50 L151.79,11.50 L152.14,12.50 L152.49,13.50 L152.84,14.50 L153.19,15.50 L153.54,16.50 L153.89,17.50 L154.24,18.50 L154.60,19.50 L154.95,20.50 L155.31,21.50 L155.67,22.50 L156.02,23.50 L156.38,24.50 L156.74,25.50 L157.10,26.50 L157.46,27.50 L157.82,28.50 L158.18,29.50 L158.55,30.50 L158.91,31.50 L159.27,32.50 L159.64,33.50 L160.01,34.50 L160.37,35.50 L160.74,36.50 L161.11,37.50 L161.48,38.50 L161.85,39.50 L162.22,40.50 L162.59,41.50 L162.97,42.50 L163.34,43.50 L163.72,44.50 L164.09,45.50 L164.47,46.50 L164.85,47.50 L165.22,48.50 L165.60,49.50 L165.98,50.50 L166.37,51.50 L166.75,52.50 L167.13,53.50 L167.52,54.50 L167.90,55.50 L168.29,56.50 L168.67,57.50 L169.06,58.50 L169.45,59.50 L169.84,60.50 L170.23,61.50 L170.62,62.50 L171.01,63.50 L171.41,64.50 L171.80,65.50 L172.20,66.50 L172.60,67.50 L172.99,68.50 L173.39,69.50 L173.79,70.50 L174.19,71.50 L174.59,72.50 L175.00,73.50 L175.40,74.50 L175.80,75.50 L176.21,76.50 L176.62,77.50 L177.03,78.50 L177.43,79.50 L177.84,80.50 L178.26,81.50 L178.67,82.50 L179.08,83.50 L179.50,84.50 L179.91,85.50 L180.33,86.50 L180.74,87.50 L181.16,88.50 L181.58,89.50 L182.00,90.50 L182.43,91.50 L182.85,92.50 L183.27,93.50 L183.70,94.50 L184.13,95.50 L184.55,96.50 L184.98,97.50 L185.41,98.50 L185.84,99.50 L186.28,100.50 L186.71,101.50 L187.15,102.50 L187.58,103.50 L188.02,104.50 L188.46,105.50 L188.90,106.50 L189.34,107.50 L189.78,108.50 L190.22,109.50 L190.67,110.50 L191.11,111.50 L191.56,112.50 L192.01,113.50 L192.46,114.50 L192.91,115.50 L193.36,116.50 L193.82,117.50 L194.27,118.50 L194.73,119.50 L195.19,120.50 L195.65,121.50 L196.11,122.50 L196.57,123.50 L197.03,124.50 L197.49,125.50 L197.96,126.50 L198.43,127.50 L198.90,128.50 L199.37,129.50 L199.84,130.50 L200.31,131.50 L200.78,132.50 L201.26,133.50 L201.74,134.50 L202.21,135.50 L202.69,136.50 L203.18,137.50 L203.66,138.50 L204.14,139.50 L204.63,140.50 L205.12,141.50 L205.60,142.50 L206.10,143.50 L206.59,144.50 L207.08,145.50 L207.58,146.50 L208.07,147.50 L208.57,148.50 L209.07,149.50 L209.57,150.50 L210.07,151.50 L210.58,152.50 L211.08,153.50 L211.59,154.50 L212.10,155.50 L212.61,156.50 L213.12,157.50 L213.64,158.50 L214.15,159.50 L214.67,160.50 L215.19,161.50 L215.71,162.50 L216.24,163.50 L216.76,164.50 L217.29,165.50 L217.81,166.50 L218.34,167.50 L218.88,168.50 L219.41,169.50 L219.94,170.50 L220.48,171.50 L221.02,172.50 L221.56,173.50 L222.10,174.50 L222.65,175.50 L223.19,176.50 L223.74,177.50 L224.29,178.50 L224.84,179.50 L225.40,180.50 L225.95,181.50 L226.51,182.50 L227.07,183.50 L227.63,184.50 L228.20,185.50 L228.76,186.50 L229.33,187.50 L229.90,188.50 L230.47,189.50 L231.05,190.50 L231.63,191.50 L232.20,192.50 L232.78,193.50 L233.37,194.50 L233.95,195.50 L234.54,196.50 L235.13,197.50 L235.72,198.50 L236.31,199.50 L236.91,200.50 L237.51,201.50 L238.11,202.50 L238.71,203.50 L239.31,204.50 L239.92,205.50 L240.53,206.50 L241.14,207.50 L241.76,208.50 L242.37,209.50 L242.99,210.50 L243.62,211.50 L244.24,212.50 L244.87,213.50 L245.50,214.50 L246.13,215.50 L246.76,216.50 L247.40,217.50 L248.04,218.50 L248.68,219.50 L249.32,220.50 L249.97,221.50 L250.62,222.50 L251.27,223.50 L251.93,224.50 L252.59,225.50 L253.25,226.50 L253.91,227.50 L254.58,228.50 L255.25,229.50 L255.92,230.50 L256.59,231.50 L257.27,232.50 L257.95,233.50 L258.63,234.50 L259.32,235.50 L260.01,236.50 L260.70,237.50 L261.40,238.50 L262.10,239.50 L262.80,240.50 L263.50,241.50 L264.21,242.50 L264.92,243.50 L265.64,244.50 L266.36,245.50 L267.08,246.50 L267.80,247.50 L268.53,248.50 L269.26,249.50 L270.00,250.50 L270.73,251.50 L271.48,252.50 L272.22,253.50 L272.97,254.50 L273.72,255.50 L274.48,256.50 L275.24,257.50 L276.00,258.50 L276.77,259.50 L277.54,260.50 L278.31,261.50 L279.09,262.50 L279.87,263.50 L280.66,264.50 L281.44,265.50 L282.24,266.50 L283.04,267.50 L283.84,268.50 L284.64,269.50 L285.45,270.50 L286.27,271.50 L287.09,272.50 L287.91,273.50 L288.74,274.50 L289.57,275.50 L290.40,276.50 L291.24,277.50 L292.09,278.50 L292.94,279.50 L293.79,280.50 L294.65,281.50 L295.51,282.50 L296.38,283.50 L297.25,284.50 L298.13,285.50 L299.01,286.50 L299.90,287.50 L300.79,288.50 L301.69,289.50 L302.59,290.50 L303.50,291.50 L304.41,292.50 L305.33,293.50 L306.25,294.50 L307.18,295.50 L308.12,296.50 L309.06,297.50 L310.00,298.50 L310.96,299.50 L311.91,300.50 L312.88,301.50 L313.85,302.50 L314.82,303.50 L315.80,304.50 L316.79,305.50 L317.78,306.50 L318.78,307.50 L319.79,308.50 L320.80,309.50 L321.82,310.50 L322.85,311.50 L323.88,312.50 L324.92,313.50 L325.96,314.50 L327.02,315.50 L328.08,316.50 L329.15,317.50 L330.22,318.50 L331.30,319.50 L332.39,320.50 L333.49,321.50 L334.59,322.50 L335.71,323.50 L336.83,324.50 L337.96,325.50 L339.09,326.50 L340.24,327.50 L341.39,328.50 L342.55,329.50 L343.72,330.50 L344.90,331.50 L346.09,332.50 L347.29,333.50 L348.49,334.50 L349.71,335.50 L350.93,336.50 L352.17,337.50 L353.41,338.50 L354.67,339.50 L355.93,340.50 L357.20,341.50 L358.49,342.50 L359.78,343.50 L361.09,344.50 L362.41,345.50 L363.74,346.50 L365.08,347.50 L366.43,348.50 L367.79,349.50 L369.16,350.50 L370.55,351.50 L371.95,352.50 L373.36,353.50 L374.78,354.50 L376.22,355.50 L377.67,356.50 L379.13,357.50 L380.61,358.50 L382.10,359.50 L383.61,360.50 L385.13,361.50 L386.66,362.50 L388.21,363.50 L389.78,364.50 L391.36,365.50 L392.95,366.50 L394.57,367.50 L396.20,368.50 L397.84,369.50 L399.51,370.50 L401.19,371.50 L402.89,372.50 L404.61,373.50 L406.34,374.50 L408.10,375.50 L409.88,376.50 L411.67,377.50 L413.49,378.50 L415.33,379.50 L417.19,380.50 L419.07,381.50 L420.98,382.50" stroke="#f00"/>
<use href="#mo" x="155.22" y="21.26"/>
<use href="#mo" x="161.58" y="38.79"/>
<use href="#mo" x="168.21" y="56.31"/>
<use href="#mo" x="175.13" y="73.83"/>
<use href="#mo" x="182.37" y="91.36"/>
<use href="#mo" x="189.95" y="108.88"/>
<use href="#mo" x="197.92" y="126.40"/>
<use href="#mo" x="206.31" y="143.93"/>
<use href="#mo" x="215.17" y="161.45"/>
<use href="#mo" x="224.56" y="178.98"/>
<use href="#mo" x="234.54" y="196.50"/>
<use href="#mo" x="245.20" y="214.02"/>
<use href="#mo" x="256.62" y="231.55"/>
<use href="#mo" x="268.95" y="249.07"/>
<use href="#mo" x="282.31" y="266.60"/>
<use href="#mo" x="296.92" y="284.12"/>
<use href="#mo" x="313.01" y="301.64"/>
<use href="#mo" x="330.94" y="319.17"/>
<use href="#mo" x="351.17" y="336.69"/>
<use href="#mo" x="374.37" y="354.21"/>
<use href="#mo" x="401.59" y="371.74"/>
</g>
<rect x="61.5" y="12.5" width="480.0" height="368.0" fill="none" stroke="#1a1a1a" stroke-width="1"/>
<path d="M61.5,362.98h5.3M541.5,362.98h-5.3M61.5,327.93h5.3M541.5,327.93h-5.3M61.5,292.88h5.3M541.5,292.88h-5.3M61.5,257.83h5.3M541.5,257.83h-5.3M61.5,222.79h5.3M541.5,222.79h-5.3M61.5,187.74h5.3M541.5,187.74h-5.3M61.5,152.69h5.3M541.5,152.69h-5.3M61.5,117.64h5.3M541.5,117.64h-5.3M61.5,82.60h5.3M541.5,82.60h-5.3M61.5,47.55h5.3M541.5,47.55h-5.3M61.5,12.50h5.3M541.5,12.50h-5.3M61.50,380.5v-3M61.50,12.5v3M96.75,380.5v-3M96.75,12.5v3M121.76,380.5v-3M121.76,12.5v3M141.16,380.5v-3M141.16,12.5v3M157.01,380.5v-3M157.01,12.5v3M170.41,380.5v-3M170.41,12.5v3M182.02,380.5v-3M182.02,12.5v3M192.25,380.5v-3M192.25,12.5v3M201.41,380.5v-5.3M201.41,12.5v5.3M261.67,380.5v-3M261.67,12.5v3M296.92,380.5v-3M296.92,12.5v3M321.93,380.5v-3M321.93,12.5v3M341.33,380.5v-3M341.33,12.5v3M357.18,380.5v-3M357.18,12.5v3M370.58,380.5v-3M370.58,12.5v3M382.19,380.5v-3M382.19,12.5v3M392.43,380.5v-3M392.43,12.5v3M401.59,380.5v-5.3M401.59,12.5v5.3M461.84,380.5v-3M461.84,12.5v3M497.09,380.5v-3M497.09,12.5v3M522.10,380.5v-3M522.10,12.5v3M541.50,380.5v-3M541.50,12.5v3" stroke="#1a1a1a" stroke-width="1" fill="none"/>
<text x="55" y="368.88" font-size="17.5" text-anchor="end" fill="#000">320</text>
<text x="55" y="333.83" font-size="17.5" text-anchor="end" fill="#000">340</text>
<text x="55" y="298.78" font-size="17.5" text-anchor="end" fill="#000">360</text>
<text x="55" y="263.73" font-size="17.5" text-anchor="end" fill="#000">380</text>
<text x="55" y="228.69" font-size="17.5" text-anchor="end" fill="#000">400</text>
<text x="55" y="193.64" font-size="17.5" text-anchor="end" fill="#000">420</text>
<text x="55" y="158.59" font-size="17.5" text-anchor="end" fill="#000">440</text>
<text x="55" y="123.54" font-size="17.5" text-anchor="end" fill="#000">460</text>
<text x="55" y="88.50" font-size="17.5" text-anchor="end" fill="#000">480</text>
<text x="55" y="53.45" font-size="17.5" text-anchor="end" fill="#000">500</text>
<text x="55" y="18.40" font-size="17.5" text-anchor="end" fill="#000">520</text>
<text x="189.81" y="408.7" font-size="17.5" fill="#000">10<tspan dx="-1.2" dy="-8.1" font-size="14">4</tspan></text>
<text x="389.99" y="408.7" font-size="17.5" fill="#000">10<tspan dx="-1.2" dy="-8.1" font-size="14">5</tspan></text>
<text x="301.3" y="431.5" font-size="20" font-style="italic" text-anchor="middle" fill="#000">N</text>
<text transform="translate(21,196.4) rotate(-90)" font-size="20.2" text-anchor="middle" fill="#000"><tspan font-style="italic">σ</tspan> /MPa</text>
<rect x="398.5" y="24.5" width="132" height="139" fill="#fff" stroke="#1a1a1a" stroke-width="1"/>
<circle cx="424.3" cy="34.60" r="1.5" fill="#000"/>
<text class="lg" x="448.9" y="38.90" font-size="12.8" fill="#000">Simulated data</text>
<path d="M402.6,49.50H445.4" stroke="#0f0" stroke-width="2.3" fill="none" stroke-dasharray="8.5 8.65"/>
<text class="lg" x="448.9" y="53.80" font-size="12.8" fill="#000">50%</text>
<path d="M402.6,64.40H445.4" stroke="#0f0" stroke-width="2.3" fill="none"/>
<use href="#ms" x="424.3" y="64.40"/>
<text class="lg" x="448.9" y="68.70" font-size="12.8" fill="#000">99%</text>
<path d="M402.6,79.30H445.4" stroke="#000" stroke-width="2.3" fill="none"/>
<text class="lg" x="448.9" y="83.60" font-size="12.8" fill="#000">50%-S-N by 1</text>
<path d="M402.6,94.20H445.4" stroke="#000" stroke-width="2.3" fill="none"/>
<use href="#mx" x="424.3" y="94.20"/>
<text class="lg" x="448.9" y="98.50" font-size="12.8" fill="#000">99%-S-N by 1</text>
<path d="M402.6,109.10H444.6" stroke="#00f" stroke-width="2.6" fill="none" stroke-dasharray="2.1 2.15"/>
<text class="lg" x="448.9" y="113.40" font-size="12.8" fill="#000">50%-S-N by 2</text>
<path d="M402.6,124.00H445.4" stroke="#00f" stroke-width="2.3" fill="none"/>
<use href="#mst" x="424.3" y="124.00"/>
<text class="lg" x="448.9" y="128.30" font-size="12.8" fill="#000">99%-S-N by 2</text>
<path d="M402.6,138.90H445.4" stroke="#f00" stroke-width="2.3" fill="none" stroke-dasharray="8.5 8.65"/>
<text class="lg" x="448.9" y="143.20" font-size="12.8" fill="#000">50%-S-N by 3</text>
<path d="M402.6,153.80H445.4" stroke="#f00" stroke-width="2.3" fill="none"/>
<use href="#mo" x="424.3" y="153.80"/>
<text class="lg" x="448.9" y="158.10" font-size="12.8" fill="#000">99%-S-N by 3</text>
<text x="139.5" y="467.9" font-size="21" fill="#000" style="font-family:'Liberation Serif',serif">1-GM, 2-BSIM, and 3-IMLM.</text>
</svg></body></html>
